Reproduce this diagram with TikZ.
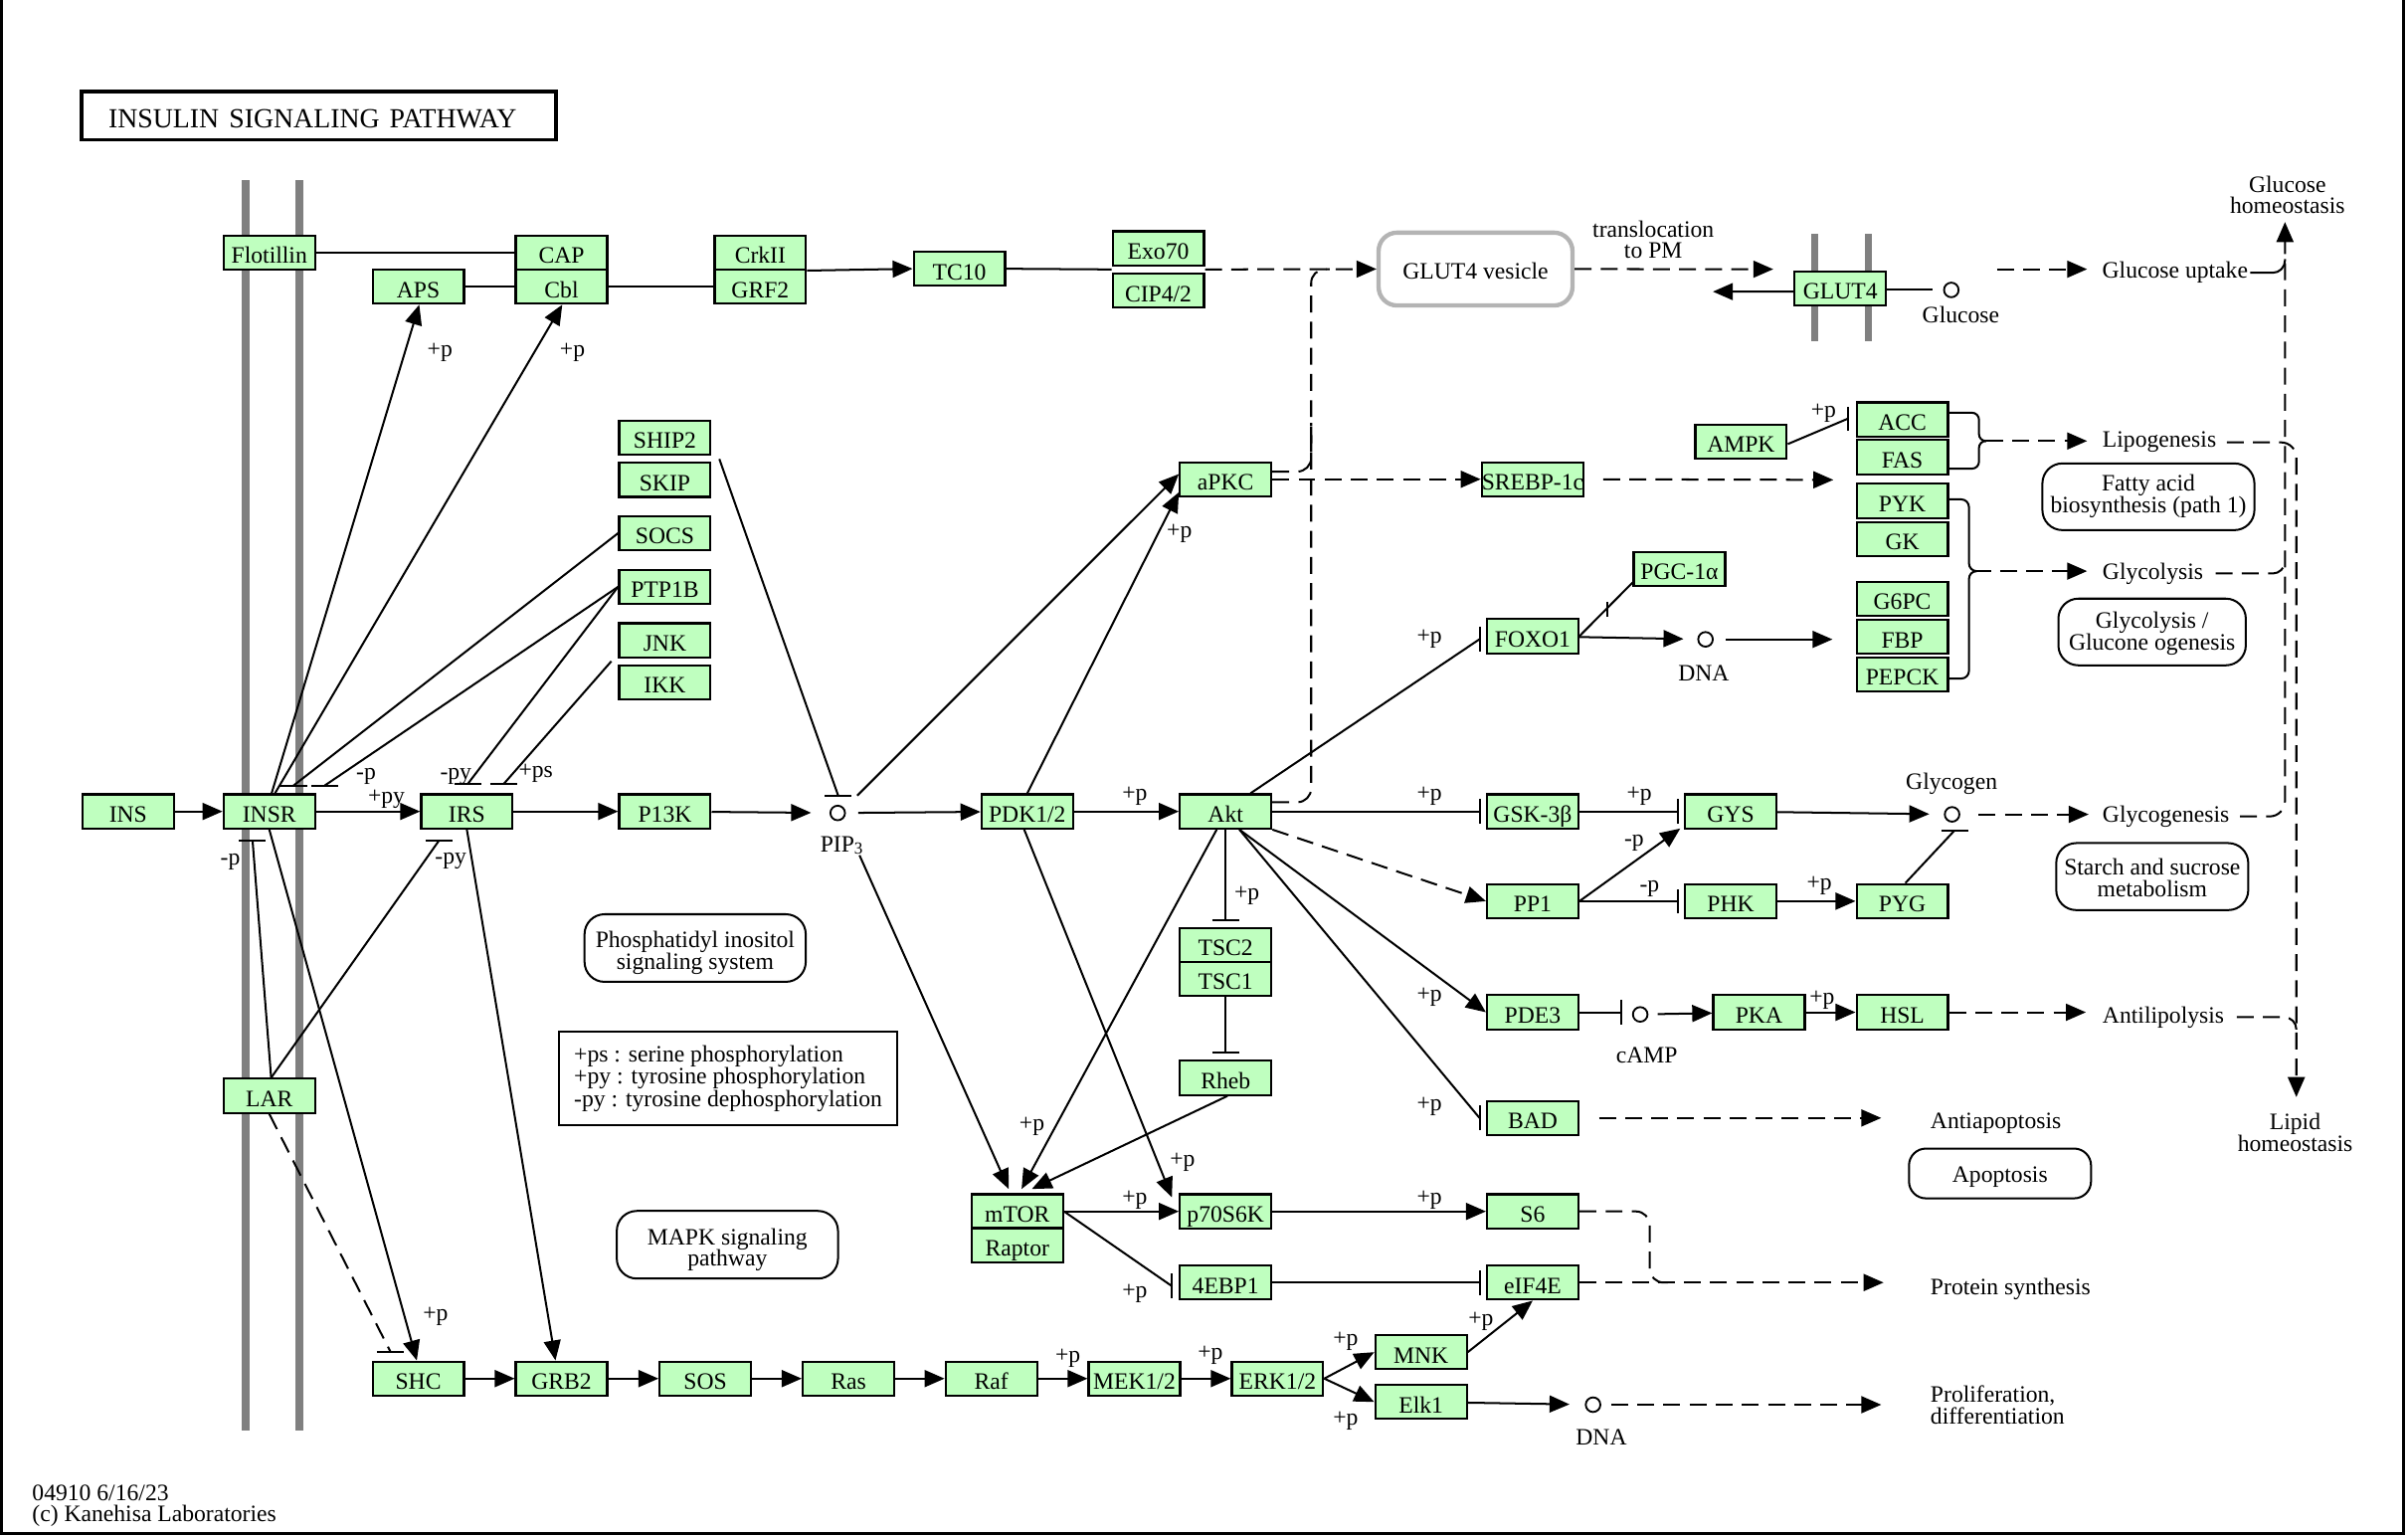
\documentclass[tikz,border=0pt]{standalone}
\usepackage{fontspec}
\setmainfont{Liberation Serif}
\usetikzlibrary{arrows.meta,calc}
\definecolor{kgreen}{HTML}{BFFFBF}
\definecolor{mgray}{HTML}{808080}
\definecolor{vgray}{HTML}{B4B4B4}
\newcommand{\hbarat}[1]{\draw[ln] ([xshift=-8.75pt]#1) -- ([xshift=8.75pt]#1);}
\newcommand{\vbarat}[1]{\draw[ln] ([yshift=-8pt]#1) -- ([yshift=8pt]#1);}
\begin{document}
\begin{tikzpicture}[x=1pt,y=-1pt,
  every node/.style={font=\fontsize{15.3}{14}\selectfont, inner sep=0pt},
  gene/.style={draw, fill=kgreen, line width=1.4pt, minimum width=59.5pt, minimum height=22.2pt, text height=14.2pt, text depth=0pt},
  cpd/.style={draw, circle, line width=1.2pt, minimum size=9.5pt},
  mapbox/.style={draw, rounded corners=13pt, line width=1.3pt, align=center, text height=28pt, text depth=0pt},
  ln/.style={line width=1.3pt},
  act/.style={ln, -{Triangle[length=13pt,width=11pt]}},
  dsh/.style={ln, dash pattern=on 11pt off 6pt},
  dact/.style={act, dash pattern=on 11pt off 6pt},
  lbl/.style={anchor=base west},
]
\useasboundingbox (0,0) rectangle (1567.5,999.7);
% frame
\draw[line width=1.8pt] (0.9,-2) -- (0.9,998.1) -- (1564.4,998.1) -- (1564.4,-2);
% membranes
\fill[mgray] (157.4,117.2) rectangle (162.4,931);
\fill[mgray] (192,117.2) rectangle (197.2,931);
\fill[mgray] (1178.9,152) rectangle (1183.6,221.8);
\fill[mgray] (1213.7,152) rectangle (1218.4,221.8);
% title
\node[draw, line width=2.3pt, minimum width=308.8pt, minimum height=31.6pt, font=\fontsize{18}{18}\selectfont, text height=15.6pt, text depth=0pt] (title) at (207.5,75.2) {\hspace*{-8pt}INSULIN\hspace{2pt} SIGNALING\hspace{2pt} PATHWAY};
% genes
\node[gene] (flot) at (175.3,164.3) {Flotillin};
\node[gene] (cap) at (365.5,164.3) {CAP};
\node[gene] (cbl) at (365.5,186.5) {Cbl};
\node[gene] (aps) at (272.3,186.5) {APS};
\node[gene] (crk) at (494.9,164.3) {CrkII};
\node[gene] (grf) at (494.9,186.5) {GRF2};
\node[gene] (tc10) at (624.5,174.9) {TC10};
\node[gene] (exo) at (754,161.6) {Exo70};
\node[gene] (cip) at (754,189.1) {CIP4/2};
\node[draw=vgray, line width=2.8pt, rounded corners=12pt, minimum width=126.2pt, minimum height=47.4pt, text height=13.2pt, text depth=0pt] (ves) at (960.5,175.1) {GLUT4 vesicle};
\node[gene] (glut4) at (1198,187.7) {GLUT4};
\node[cpd] (glc) at (1270.2,188.7) {};
\node[gene] (ampk) at (1133.3,287.3) {AMPK};
\node[gene] (acc) at (1238.3,273) {ACC};
\node[gene] (fas) at (1238.3,297.5) {FAS};
\node[gene] (pyk) at (1238.3,326) {PYK};
\node[gene] (gk) at (1238.3,350.8) {GK};
\node[gene] (g6pc) at (1238.3,389.6) {G6PC};
\node[gene] (fbp) at (1238.3,414.4) {FBP};
\node[gene] (pepck) at (1238.3,438.8) {PEPCK};
\node[gene] (pgc) at (1093.2,370.3) {PGC-1α};
\node[gene] (ship2) at (432.8,284.8) {SHIP2};
\node[gene] (skip) at (432.8,312.3) {SKIP};
\node[gene] (socs) at (432.8,347) {SOCS};
\node[gene] (ptp) at (432.8,381.9) {PTP1B};
\node[gene] (jnk) at (432.8,416.7) {JNK};
\node[gene] (ikk) at (432.8,444) {IKK};
\node[gene] (apkc) at (797.8,311.9) {aPKC};
\node[gene] (srebp) at (997.7,311.9) {SREBP-1c};
\node[gene] (foxo) at (997.7,414) {FOXO1};
\node[cpd] (dna1) at (1110.2,416.1) {};
\node[gene] (ins) at (83.4,528.1) {INS};
\node[gene] (insr) at (175.3,528.1) {INSR};
\node[gene] (irs) at (303.9,528.1) {IRS};
\node[gene] (pi3k) at (432.8,528.1) {P13K};
\node[cpd] (pip3) at (545.3,529.1) {};
\node[gene] (pdk) at (668.7,528.1) {PDK1/2};
\node[gene] (akt) at (797.8,528.1) {Akt};
\node[gene] (gsk) at (997.7,528.1) {GSK-3β};
\node[gene] (gys) at (1126.6,528.1) {GYS};
\node[cpd] (glyc) at (1270.7,530) {};
\node[gene] (pp1) at (997.7,586.5) {PP1};
\node[gene] (phk) at (1126.6,586.5) {PHK};
\node[gene] (pyg) at (1238.3,586.5) {PYG};
\node[gene] (pde3) at (997.7,658.8) {PDE3};
\node[cpd] (camp) at (1067.7,660.2) {};
\node[gene] (pka) at (1145,658.8) {PKA};
\node[gene] (hsl) at (1238.3,658.8) {HSL};
\node[gene] (bad) at (997.7,727.6) {BAD};
\node[gene] (tsc2) at (797.8,615) {TSC2};
\node[gene] (tsc1) at (797.8,637) {TSC1};
\node[gene] (rheb) at (797.8,701.5) {Rheb};
\node[gene] (mtor) at (662.2,788.4) {mTOR};
\node[gene] (raptor) at (662.2,810.4) {Raptor};
\node[gene] (p70) at (797.8,788.4) {p70S6K};
\node[gene] (s6) at (997.7,788.4) {S6};
\node[gene] (ebp) at (797.8,834.7) {4EBP1};
\node[gene] (eif) at (997.7,834.7) {eIF4E};
\node[gene] (mnk) at (925,880) {MNK};
\node[gene] (elk) at (925,912.4) {Elk1};
\node[cpd] (dna2) at (1037,914.2) {};
\node[gene] (lar) at (175.3,713.2) {LAR};
\node[gene] (shc) at (272.3,897.2) {SHC};
\node[gene] (grb2) at (365.5,897.2) {GRB2};
\node[gene] (sos) at (459.1,897.2) {SOS};
\node[gene] (ras) at (552.3,897.2) {Ras};
\node[gene] (raf) at (645.3,897.2) {Raf};
\node[gene] (mek) at (738.4,897.2) {MEK1/2};
\node[gene] (erk) at (831.6,897.2) {ERK1/2};
% maps
\node[mapbox, minimum width=138pt, minimum height=43.4pt, text height=20.8pt] (fatty) at (1398.5,323.3) {Fatty acid\\biosynthesis (path 1)};
\node[mapbox, minimum width=122pt, minimum height=43.4pt, text height=23.2pt] (glymap) at (1400.9,411.3) {Glycolysis /\\Glucone ogenesis};
\node[mapbox, minimum width=125pt, minimum height=43.6pt, text height=26.2pt] (starch) at (1401,570.5) {Starch and sucrose\\metabolism};
\node[mapbox, rounded corners=11pt, minimum width=118.5pt, minimum height=32.4pt, text height=11pt] (apop) at (1301.9,763.7) {Apoptosis};
\node[mapbox, minimum width=144pt, minimum height=44pt] (pis) at (452.5,617) {Phosphatidyl inositol\\signaling system};
\node[mapbox, minimum width=144pt, minimum height=44pt] (mapk) at (473.5,810.1) {MAPK signaling\\pathway};
\node[draw, line width=1.3pt, minimum width=220pt, minimum height=61pt, align=left, font=\fontsize{15.3}{14.5}\selectfont] (legend) at (474,702) {\raisebox{-1.5pt}{+ps : serine phosphorylation}\\\raisebox{-1.5pt}{+py : tyrosine phosphorylation}\\\raisebox{-1.5pt}{-py : tyrosine dephosphorylation}};
% text labels (base = last line baseline)
\node[anchor=base, align=center] (tl) at (1076.2,168.2) {translocation\\to PM};
\node[anchor=base] (glclbl) at (1276.4,210.4) {Glucose};
\node[anchor=base west] (uptake) at (1368.3,181.2) {Glucose uptake};
\node[anchor=base, align=center] (ghomeo) at (1489,139.1) {Glucose\\homeostasis};
\node[anchor=base west] (lipo) at (1368.5,291.3) {Lipogenesis};
\node[anchor=base west] (glyco) at (1368.5,376.9) {Glycolysis};
\node[anchor=base west] (glygen) at (1368.5,535) {Glycogenesis};
\node[anchor=base] (glylbl) at (1270.4,513.5) {Glycogen};
\node[anchor=base west] (antilip) at (1368.5,665.6) {Antilipolysis};
\node[anchor=base, align=center] (lhomeo) at (1494,749.3) {Lipid\\homeostasis};
\node[anchor=base west] (antiap) at (1256.5,734.6) {Antiapoptosis};
\node[anchor=base west] (prot) at (1256.5,842.5) {Protein synthesis};
\node[anchor=base west, align=left] (prolif) at (1256.5,926.6) {Proliferation,\\differentiation};
\node[anchor=base] (dnalbl1) at (1109,443.4) {DNA};
\node[anchor=base] (dnalbl2) at (1042.4,940.2) {DNA};
\node[anchor=base] (camplbl) at (1072,692) {cAMP};
\node[anchor=base] (piplbl) at (547.8,554.5) {PIP\raisebox{-1.5pt}{\fontsize{11}{11}\selectfont 3}};
\node[anchor=base west, align=left, font=\fontsize{15.3}{13.4}\selectfont] (foot) at (20.8,990.3) {04910 6/16/23\\(c) Kanehisa Laboratories};
% small labels
\node[lbl] at (278,232) {+p};
\node[lbl] at (364.3,232) {+p};
\node[lbl] at (231.7,507) {-p};
\node[lbl] at (239.4,522.5) {+py};
\node[lbl] at (286.3,507) {-py};
\node[lbl] at (337.5,505.9) {+ps};
\node[lbl] at (143.3,562.7) {-p};
\node[lbl] at (283,562) {-py};
\node[lbl] at (275.2,859.8) {+p};
\node[lbl] at (759.4,350.2) {+p};
\node[lbl] at (730.3,521) {+p};
\node[lbl] at (922.2,521) {+p};
\node[lbl] at (922.2,418.6) {+p};
\node[lbl] at (803.3,585.8) {+p};
\node[lbl] at (922.2,651.5) {+p};
\node[lbl] at (922.2,722.8) {+p};
\node[lbl] at (663.4,735.7) {+p};
\node[lbl] at (761.4,759.4) {+p};
\node[lbl] at (730.3,783.8) {+p};
\node[lbl] at (730.3,844.7) {+p};
\node[lbl] at (922.2,783.8) {+p};
\node[lbl] at (955.7,863) {+p};
\node[lbl] at (867.6,875.9) {+p};
\node[lbl] at (867.6,927.7) {+p};
\node[lbl] at (686.8,886.7) {+p};
\node[lbl] at (779.5,884.6) {+p};
\node[lbl] at (1058.8,521) {+p};
\node[lbl] at (1057.1,550.8) {-p};
\node[lbl] at (1067.2,580.4) {-p};
\node[lbl] at (1176,579.3) {+p};
\node[lbl] at (1177.7,653.7) {+p};
\node[lbl] at (1178.7,271.8) {+p};
% coordinates
\coordinate (tlend) at (1154.3,175.2);
\coordinate (gluend) at (1115,189.8);
\coordinate (gustart) at (1300,175.2);
\coordinate (vx) at (853.5,175.2);
\coordinate (srebpend) at (1193.4,312.3);
\coordinate (brA) at (1292.8,287);
\coordinate (brB) at (1285,371.7);
\coordinate (hup) at (1487.4,144.5);
\coordinate (hdown) at (1494.8,714);
\coordinate (s6j) at (1073.9,834.7);
\coordinate (bsocs) at (191,511.3);
\coordinate (bptpa) at (211.3,511.3);
\coordinate (bptpb) at (304.4,510.3);
\coordinate (bjnk) at (327.8,510.3);
\coordinate (blara) at (164.4,547);
\coordinate (blarb) at (285.8,547);
\coordinate (bshc) at (254.1,879.6);
\coordinate (bpip) at (545.7,518);
\coordinate (btsc) at (797.8,598.7);
\coordinate (brheb) at (797.8,685);
\coordinate (bglyc) at (1272.3,540.5);
\coordinate (bgsk) at (963.1,528.1);
\coordinate (bfoxo) at (963.1,416);
\coordinate (bbad) at (963.1,727.6);
\coordinate (bebp) at (762.8,837);
\coordinate (beif) at (963.1,834.7);
\coordinate (bphk) at (1092.3,586.5);
\coordinate (bgys) at (1092.3,528.1);
\coordinate (bcamp) at (1055.1,658.8);
\coordinate (bacc) at (1202.8,272.5);
\coordinate (bpgc) at (1046,396.5);
% top row
\draw[ln] (flot) -- (cap);
\draw[ln] (aps) -- (cbl);
\draw[ln] (cbl) -- (grf);
\draw[act] (crk.south east) -- (tc10.west);
\draw[ln] (tc10.east) -- ($(exo.south west)!0.5!(cip.north west)$);
\draw[dact] ($(exo.south east)!0.5!(cip.north east)$) -- (ves.west);
\draw[dact] (ves.east) -- (tlend);
\draw[act] ([yshift=-2pt]glut4.west) -- (gluend);
\draw[ln, shorten >=6.7pt] (glut4.east |- glc.center) -- (glc.west);
\draw[dact, shorten >=9.7pt] (gustart) -- (uptake.west |- gustart);
% GLUT4 vesicle feed
\draw[dsh, rounded corners=9pt] ([yshift=5pt]apkc.east) -| ($(vx)+(0,100)$);
\draw[dsh, rounded corners=9pt] ([yshift=6pt]akt.east) -| (vx) -- ([xshift=12pt]vx);
\draw[dact] (apkc) -- (srebp);
\draw[dact, shorten <=12pt] (srebp.east) -- (srebpend);
% braces
\draw[ln, rounded corners=4.5pt] ([yshift=4.4pt]acc.east) -- (1288.2,268.6) -- (1288.2,287) -- (brA);
\draw[ln, rounded corners=4.5pt] ([yshift=-7.5pt]fas.east) -- (1288.2,305) -- (1288.2,287) -- (brA);
\draw[ln, rounded corners=5pt] ([yshift=1pt]pyk.east) -- (1281.7,325) -- (1281.7,371.7) -- (brB);
\draw[ln, rounded corners=5pt] ([yshift=-2.8pt]pepck.east) -- (1281.7,441.6) -- (1281.7,371.7) -- (brB);
\draw[dact, shorten >=9.9pt] (brA) -- (lipo.west |- brA);
\draw[dact, shorten >=9.9pt] (brB) -- (glyco.west |- brB);
% right verticals
\draw[dact, rounded corners=10pt] ([xshift=6.8pt]glygen.east) -| (hup);
\draw[dsh, rounded corners=8pt] ([xshift=8pt]glyco.east) -| ($(hup)+(0,222)$);
\draw[ln, rounded corners=8pt] ([xshift=1.3pt]uptake.east) -| ($(hup)+(0,24)$);
\draw[dact, rounded corners=10pt] ([xshift=6.7pt]lipo.east) -| (hdown);
\draw[dsh, rounded corners=8pt] ([xshift=8pt]antilip.east) -| ($(hdown)+(0,-44)$);
% AMPK, FOXO1
\draw[ln] ([yshift=-1.7pt]ampk.east) -- (bacc); \vbarat{bacc}
\draw[ln] (foxo.east) -- ([yshift=3pt]pgc.south west);
\draw[ln] ([yshift=-5pt]bpgc) -- ([yshift=5pt]bpgc);
\draw[act, shorten >=9pt] (foxo) -- (dna1);
\draw[act, shorten <=8pt, shorten >=15pt] (dna1) -- (fbp.west |- dna1);
% main row
\draw[act] (ins) -- (insr);
\draw[act] (insr) -- (irs);
\draw[act] (irs) -- (pi3k);
\draw[act, shorten >=12pt] (pi3k) -- (pip3);
\draw[act, shorten <=8pt] (pip3) -- (pdk);
\draw[act] (pdk) -- (akt);
% INSR region
\draw[act] ([xshift=1.5pt]insr.north) -- ([xshift=0.6pt]aps.south);
\draw[act] ([xshift=3.7pt]insr.north) -- ([xshift=0.5pt]cbl.south);
\draw[ln] (socs.west) -- (bsocs); \hbarat{bsocs}
\draw[ln] (ptp.west) -- (bptpa); \hbarat{bptpa}
\draw[ln] (ptp.west) -- (bptpb); \hbarat{bptpb}
\draw[ln] ($(jnk.south west)!0.5!(ikk.north west)+(-4.4,0)$) -- (bjnk); \hbarat{bjnk}
\draw[ln] ([xshift=1.2pt]lar.north) -- (blara); \hbarat{blara}
\draw[ln] ([xshift=1.2pt]lar.north) -- (blarb); \hbarat{blarb}
\draw[act] (insr.south) -- ([xshift=-1pt]shc.north);
\draw[dsh] (lar.south) -- (bshc); \hbarat{bshc}
\draw[act] (irs.south) -- ([xshift=-3.9pt]grb2.north);
% MAPK chain
\draw[act] (shc) -- (grb2);
\draw[act] (grb2) -- (sos);
\draw[act] (sos) -- (ras);
\draw[act] (ras) -- (raf);
\draw[act] (raf) -- (mek);
\draw[act] (mek) -- (erk);
\draw[act] (erk.east) -- (mnk.west);
\draw[act] (erk.east) -- (elk.west);
\draw[act] (mnk.east) -- (eif.south);
\draw[act, shorten >=10pt] (elk) -- (dna2);
\draw[dact, shorten <=6.5pt, shorten >=31.9pt] (dna2) -- (prolif.base west |- dna2);
% PIP3 region
\draw[ln] ([xshift=5pt,yshift=-2.1pt]ship2.south east) -- (bpip); \hbarat{bpip}
\draw[act] ([xshift=12.7pt,yshift=11.3pt]pip3.center) -- ([yshift=3.4pt]apkc.west);
\draw[act] (pdk.north) -- ([yshift=-8.5pt]apkc.west);
\draw[act] ([xshift=14.2pt,yshift=-27.5pt]pip3.center) -- ([xshift=-5.6pt,yshift=2.8pt]mtor.north);
\draw[act] ([xshift=-5.8pt]akt.south) -- ([xshift=2.8pt,yshift=2.8pt]mtor.north);
\draw[act] ([xshift=1.2pt]rheb.south) -- ([xshift=9.5pt,yshift=2.8pt]mtor.north);
\draw[act] ([xshift=-2pt]pdk.south) -- ([xshift=-4.5pt,yshift=-2.7pt]p70.north west);
% mTOR region
\draw[act] (mtor.east) -- (p70.west);
\draw[ln] (mtor.east) -- (bebp); \vbarat{bebp}
\draw[act] (p70) -- (s6);
\draw[ln] (ebp.east) -- (beif); \vbarat{beif}
\draw[dsh, rounded corners=9pt] (s6.east) -| (s6j) -- ([xshift=14pt]s6j);
\draw[dact, shorten >=30.4pt] (eif.east) -- (prot.west |- eif.east);
% Akt targets
\draw[ln] (akt.east) -- (bgsk); \vbarat{bgsk}
\draw[ln] ([xshift=16.2pt]akt.north) -- (bfoxo); \vbarat{bfoxo}
\draw[dact] (akt.south east) -- (pp1.west);
\draw[act] ([xshift=9pt]akt.south) -- (pde3.west);
\draw[ln] ([xshift=9pt]akt.south) -- (bbad); \vbarat{bbad}
\draw[ln] (akt.south) -- (btsc); \hbarat{btsc}
\draw[ln] (tsc1.south) -- (brheb); \hbarat{brheb}
% glycogen region
\draw[ln] (gsk.east) -- (bgys); \vbarat{bgys}
\draw[act] (pp1.east) -- ([xshift=-2.4pt,yshift=0.7pt]gys.south west);
\draw[ln] (pp1.east) -- (bphk); \vbarat{bphk}
\draw[act] (phk) -- (pyg);
\draw[act, shorten >=9.5pt] (gys) -- (glyc);
\draw[ln] ([xshift=2pt]pyg.north) -- (bglyc); \hbarat{bglyc}
\draw[dact, shorten <=12pt, shorten >=8.9pt] (glyc) -- (glygen.west |- glyc);
% cAMP region
\draw[ln] (pde3.east) -- (bcamp); \vbarat{bcamp}
\draw[act, shorten <=6pt] (camp) -- (pka);
\draw[act] (pka) -- (hsl);
\draw[dact, shorten >=10.7pt] (hsl.east) -- (antilip.west |- hsl.east);
\draw[dact, shorten <=12.7pt, shorten >=31.9pt] (bad.east) -- (antiap.west |- bad.east);
\end{tikzpicture}
\end{document}
